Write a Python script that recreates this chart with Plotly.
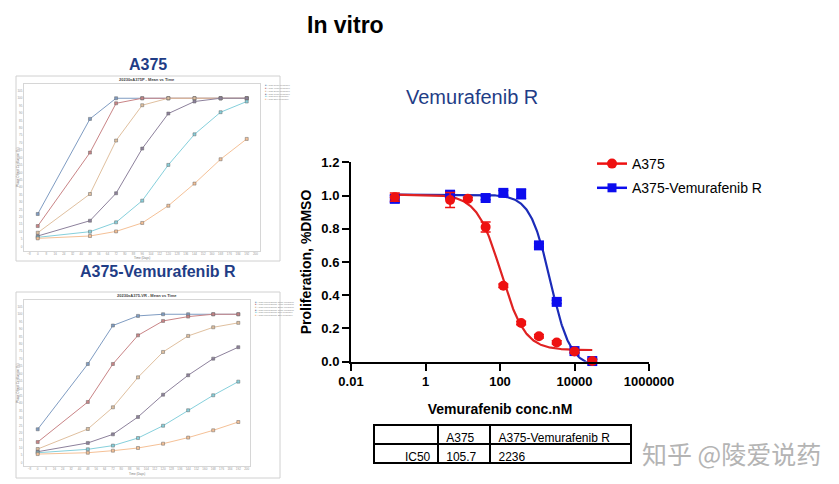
import numpy as np
import plotly.graph_objects as go

# The page body adds an 8 px offset; the figure fills the rest of the 839x484 window.
OFF = 8
W, H = 839 - OFF, 484 - OFF

# ---------------- main dose-response data ----------------
conc_a375 = [0.15, 4.57, 13.7, 41.2, 123, 370, 1111, 3333, 10000, 30000]
prolif_a375 = [0.99, 0.973, 0.98, 0.81, 0.457, 0.233, 0.153, 0.116, 0.062, 0.004]
err_a375 = [0.025, 0.045, 0.01, 0.03, 0.01, 0.01, 0.01, 0.01, 0.01, 0.01]

conc_vr = [0.15, 4.57, 41.2, 123, 370, 1111, 3333, 10000, 30000]
prolif_vr = [0.98, 1.005, 0.985, 1.016, 1.01, 0.70, 0.36, 0.064, 0.004]
err_vr = [0.02, 0.02, 0.01, 0.015, 0.03, 0.01, 0.01, 0.01, 0.01]

# 4-parameter logistic fit parameters: top, bottom, IC50 (nM), hill slope
fit_a375 = [1.005, 0.07, 105.7, 1.35]
fit_vr = [1.005, -0.03, 2236, 1.6]

# IC50 table
table_header = ["", "A375", "A375-Vemurafenib R"]
table_row = ["IC50", "105.7", "2236"]

x_ticks = [0.01, 1, 100, 10000, 1000000]
x_tick_labels = ["0.01", "1", "100", "10000", "1000000"]

# ---------------- small growth curves (confluence % vs time) ----------------
time_h = [0, 48, 72, 96, 120, 144, 168, 192]
a375_names = ["A375 8000 cells/well", "A375 4000 cells/well", "A375 2000 cells/well",
              "A375 1000 cells/well", "A375 500 cells/well", "A375 250 cells/well"]
a375_growth = [
    [22.0, 86.1, 100, 100, 100, 100, 100, 100],
    [13.9, 63.4, 96.6, 100, 100, 100, 100, 100],
    [9.4, 35.5, 71.5, 95.3, 100, 100, 100, 100],
    [7.2, 17.5, 36.0, 66.1, 89.7, 97.8, 100, 100],
    [6.3, 10.1, 16.4, 31.0, 55.1, 75.7, 90.6, 97.8],
    [5.6, 7.2, 10.3, 16.0, 27.6, 42.5, 58.9, 72.6],
]
vr_names = ["A375Vemurafenib 8000 cells/well", "A375Vemurafenib 4000 cells/well",
            "A375Vemurafenib 2000 cells/well", "A375Vemurafenib 1000 cells/well",
            "A375Vemurafenib 500 cells/well", "A375Vemurafenib 250 cells/well"]
vr_growth = [
    [22.5, 66.5, 92.4, 98.9, 100, 100, 100, 100],
    [13.9, 40.9, 66.5, 85.8, 95.5, 98.4, 100, 100],
    [9.2, 22.7, 37.3, 57.5, 74.6, 85.4, 91.2, 94.2],
    [7.4, 13.3, 19.1, 30.8, 45.8, 58.9, 70.1, 77.8],
    [6.7, 9.0, 11.5, 16.6, 24.9, 35.3, 45.4, 54.6],
    [5.8, 6.7, 8.1, 9.9, 12.8, 16.9, 21.8, 27.4],
]
growth_colors = ["#7f9cc2", "#c98486", "#e0c09f", "#8d819c", "#86d0dc", "#f5c197"]

RED = "#ee1111"
BLUE = "#0c0cee"
RED_LINE = "#e02222"
BLUE_LINE = "#1c2cb8"
NAVY = "#1f3d86"


def px(x):
    return (x - OFF) / W


def py(y):
    return 1 - (y - OFF) / H


def four_pl(x, p):
    top, bottom, ic50, hill = p
    x = np.asarray(x, dtype=float)
    return bottom + (top - bottom) / (1 + (x / ic50) ** hill)


fig = go.Figure()

# ---------- small chart traces ----------
for series, color in zip(a375_growth, growth_colors):
    fig.add_trace(go.Scatter(x=time_h, y=series, mode="lines+markers", xaxis="x2", yaxis="y2",
                             line=dict(color=color, width=1),
                             marker=dict(symbol="square", size=3, color=color,
                                         line=dict(color="#666", width=0.5)),
                             showlegend=False, hoverinfo="skip"))
for series, color in zip(vr_growth, growth_colors):
    fig.add_trace(go.Scatter(x=time_h, y=series, mode="lines+markers", xaxis="x3", yaxis="y3",
                             line=dict(color=color, width=1),
                             marker=dict(symbol="square", size=3, color=color,
                                         line=dict(color="#666", width=0.5)),
                             showlegend=False, hoverinfo="skip"))

# ---------- main chart ----------
curve_x = np.logspace(np.log10(min(conc_a375)), np.log10(max(conc_a375)), 300)
fig.add_trace(go.Scatter(x=curve_x, y=four_pl(curve_x, fit_vr), mode="lines",
                         line=dict(color=BLUE_LINE, width=2.2), showlegend=False))
fig.add_trace(go.Scatter(x=curve_x, y=four_pl(curve_x, fit_a375), mode="lines",
                         line=dict(color=RED_LINE, width=2.2), showlegend=False))
fig.add_trace(go.Scatter(x=conc_vr, y=prolif_vr, mode="markers",
                         marker=dict(symbol="square", size=10, color=BLUE),
                         error_y=dict(type="data", array=err_vr, color=BLUE, thickness=1.5, width=5),
                         showlegend=False, cliponaxis=False))
fig.add_trace(go.Scatter(x=conc_a375, y=prolif_a375, mode="markers",
                         marker=dict(symbol="circle", size=10, color=RED),
                         error_y=dict(type="data", array=err_a375, color=RED, thickness=1.5, width=5),
                         showlegend=False, cliponaxis=False))
# legend entries
fig.add_trace(go.Scatter(x=[None], y=[None], mode="lines+markers", name="A375",
                         line=dict(color=RED, width=2.5),
                         marker=dict(symbol="circle", size=10, color=RED),
                         legendgroup="a"))
fig.add_trace(go.Scatter(x=[None], y=[None], mode="lines+markers", name="A375-Vemurafenib R",
                         line=dict(color=BLUE, width=2.5),
                         marker=dict(symbol="square", size=9, color=BLUE),
                         legendgroup="b"))

# ---------- IC50 table ----------
fig.add_trace(go.Table(
    domain=dict(x=[px(374), px(631)], y=[py(472), py(425)]),
    columnwidth=[64, 52, 140],
    header=dict(values=table_header, height=19, align=["right", "left", "left"],
                line=dict(color="black", width=2), fill=dict(color="white"),
                font=dict(family="Liberation Sans", size=12, color="black")),
    cells=dict(values=[[v] for v in table_row], height=19, align=["right", "left", "left"],
               line=dict(color="black", width=2), fill=dict(color="white"),
               font=dict(family="Liberation Sans", size=12, color="black")),
))

small_axis = dict(showline=True, mirror=True, linecolor="#d6d6d6", linewidth=1,
                  showgrid=False, zeroline=False, ticks="", automargin=False,
                  tickfont=dict(size=3, color="#999"))

fig.update_layout(
    width=W, height=H,
    margin=dict(l=0, r=0, t=0, b=0, pad=0, autoexpand=False),
    paper_bgcolor="white", plot_bgcolor="white",
    font=dict(family="Liberation Sans", color="black"),
    showlegend=True,
    legend=dict(x=px(592), y=py(148), xanchor="left", yanchor="top",
                font=dict(family="Liberation Sans", size=14, color="black"),
                bgcolor="rgba(0,0,0,0)", tracegroupgap=3, itemwidth=30),
    xaxis=dict(domain=[px(351), px(649)], type="log", range=[-2, 6],
               tickvals=x_ticks, ticktext=x_tick_labels, automargin=False,
               showline=True, linecolor="black", linewidth=2, ticks="outside",
               ticklen=7, tickwidth=2, tickcolor="black", showgrid=False, zeroline=False,
               tickfont=dict(family="Liberation Sans", size=13, color="black", weight="bold"),
               title=dict(text="<b>Vemurafenib conc.nM</b>", standoff=16,
                          font=dict(family="Liberation Sans", size=14, color="black")),
               anchor="y"),
    yaxis=dict(domain=[py(361.7), py(162.3)], range=[0, 1.2], dtick=0.2, tickformat=".1f",
               showline=True, linecolor="black", linewidth=2, ticks="outside", automargin=False,
               ticklen=7, tickwidth=2, tickcolor="black", showgrid=False, zeroline=False,
               tickfont=dict(family="Liberation Sans", size=13, color="black", weight="bold"),
               title=dict(text="<b>Proliferation, %DMSO</b>", standoff=6,
                          font=dict(family="Liberation Sans", size=14, color="black")),
               anchor="x"),
    xaxis2=dict(domain=[px(24), px(260)], range=[-12.6, 204.2], dtick=8, anchor="y2", **small_axis),
    yaxis2=dict(domain=[py(250.7), py(84)], range=[-2.7, 109.6], dtick=5, anchor="x2", **small_axis),
    xaxis3=dict(domain=[px(24), px(250)], range=[-13.1, 203.2], dtick=8, anchor="y3", **small_axis),
    yaxis3=dict(domain=[py(465.5), py(300)], range=[-1.9, 109.6], dtick=5, anchor="x3", **small_axis),
)

shapes = [
    dict(type="rect", xref="paper", yref="paper", x0=px(16), x1=px(280), y0=py(261), y1=py(76),
         line=dict(color="#d0d0d0", width=1)),
    dict(type="rect", xref="paper", yref="paper", x0=px(16), x1=px(280), y0=py(478), y1=py(292),
         line=dict(color="#d0d0d0", width=1)),
]
fig.update_layout(shapes=shapes)

ann = []


def add_text(text, x, y, size, color="black", bold=False, family="Liberation Sans", angle=0,
             xanchor="center"):
    ann.append(dict(text=("<b>%s</b>" % text) if bold else text, x=px(x), y=py(y),
                    xref="paper", yref="paper", showarrow=False, xanchor=xanchor, yanchor="middle",
                    textangle=angle, font=dict(family=family, size=size, color=color)))


add_text("In vitro", 345, 25, 23, bold=True)
add_text("Vemurafenib R", 472, 97, 20, color=NAVY)
add_text("A375", 148, 64, 16, color=NAVY, bold=True)
add_text("A375-Vemurafenib R", 158, 271, 16, color=NAVY, bold=True)

# tiny chart titles / axis titles
add_text("20230xA375P - Mean vs Time", 147, 79.5, 4, color="#444", bold=True)
add_text("20230xA375-VR - Mean vs Time", 147, 295.5, 4, color="#444", bold=True)
add_text("Phase Object Confluence (%)", 18, 167, 3, color="#777", angle=-90)
add_text("Phase Object Confluence (%)", 18, 383, 3, color="#777", angle=-90)
add_text("Time (Days)", 142, 258, 3, color="#777")
add_text("Time (Days)", 137, 474, 3, color="#777")

for i, (name, color) in enumerate(zip(a375_names, growth_colors)):
    add_text("<span style='color:%s'>■</span> %s" % (color, name), 263, 86 + i * 2.7, 2.5,
             color="#888", xanchor="left")
for i, (name, color) in enumerate(zip(vr_names, growth_colors)):
    add_text("<span style='color:%s'>■</span> %s" % (color, name), 253, 302 + i * 2.7, 2.5,
             color="#888", xanchor="left")

# watermark
add_text("知乎 @陵爱说药", 731, 453, 25, color="#b4b4b4", family="Noto Sans CJK SC")

fig.update_layout(annotations=ann)

fig.write_html("out.html")
